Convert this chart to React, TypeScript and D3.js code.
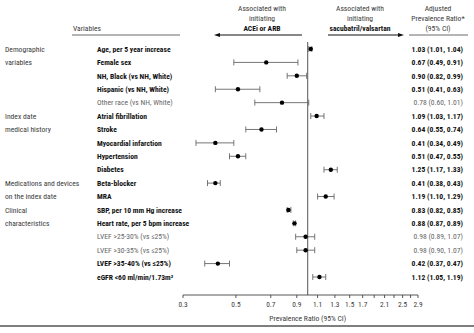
import React from "react";
import * as d3 from "d3";

const groups = [
  { label: ["Demographic", "variables"], row: 0 },
  { label: ["Index date", "medical history"], row: 5 },
  { label: ["Medications and devices", "on the index date"], row: 10 },
  { label: ["Clinical", "characteristics"], row: 12 },
];

const variables = [
  "Age, per 5 year increase",
  "Female sex",
  "NH, Black (vs NH, White)",
  "Hispanic (vs NH, White)",
  "Other race (vs NH, White)",
  "Atrial fibrillation",
  "Stroke",
  "Myocardial infarction",
  "Hypertension",
  "Diabetes",
  "Beta-blocker",
  "MRA",
  "SBP, per 10 mm Hg increase",
  "Heart rate, per 5 bpm increase",
  "LVEF >25-30% (vs ≤25%)",
  "LVEF >30-35% (vs ≤25%)",
  "LVEF >35-40% (vs ≤25%)",
  "eGFR <60 ml/min/1.73m²",
];
const estimates = [1.03, 0.67, 0.9, 0.51, 0.78, 1.09, 0.64, 0.41, 0.51, 1.25, 0.41, 1.19, 0.83, 0.88, 0.98, 0.98, 0.42, 1.12];
const lower = [1.01, 0.49, 0.82, 0.41, 0.6, 1.03, 0.55, 0.34, 0.47, 1.17, 0.38, 1.1, 0.82, 0.87, 0.89, 0.9, 0.37, 1.05];
const upper = [1.04, 0.91, 0.99, 0.63, 1.01, 1.17, 0.74, 0.49, 0.55, 1.33, 0.43, 1.29, 0.85, 0.89, 1.07, 1.07, 0.47, 1.19];
const significant = [true, true, true, true, false, true, true, true, true, true, true, true, true, true, false, false, true, true];

const tickValues = [0.3, 0.5, 0.7, 0.9, 1.1, 1.3, 1.5, 1.7, 1.9, 2.1, 2.3, 2.5, 2.7, 2.9];
const unlabeledTicks = [1.9, 2.3, 2.7];

const FONT = "'Liberation Sans Narrow', 'Roboto Condensed', Roboto, sans-serif";

export default function App() {
  const x = d3.scaleLog().domain([0.3, 2.9]).range([183, 418]);
  const y = d3.scalePoint<number>().domain(d3.range(variables.length)).range([49, 277]);
  const axisY = 295;
  const fmt = (v: number) => v.toFixed(2);
  const fs = 7.6;
  const dark = "#111";
  const grey = "#3a3a3a";
  const light = "#666";

  return (
    <svg width={474} height={333} style={{ position: "absolute", left: 0, top: 0, background: "#fff" }} fontFamily={FONT}>
      {/* header */}
      <text x={73} y={31} fontSize={fs} fill={grey}>Variables</text>
      <line x1={72} x2={180} y1={35} y2={35} stroke="#444" strokeWidth={0.8} />

      <g fontSize={fs} textAnchor="middle" fill={grey}>
        <text x={262} y={11}>Associated with</text>
        <text x={262} y={21}>initiating</text>
        <text x={262} y={31} fontWeight="bold" fill={dark}>ACEi or ARB</text>
        <text x={360} y={11}>Associated with</text>
        <text x={360} y={21}>initiating</text>
        <text x={360} y={31} fontWeight="bold" fill={dark}>sacubatril/valsartan</text>
        <text x={438} y={11}>Adjusted</text>
        <text x={438} y={21}>Prevalence Ratio*</text>
        <text x={438} y={31}>(95% CI)</text>
      </g>
      <line x1={217} x2={302} y1={35} y2={35} stroke="#111" strokeWidth={1} />
      <path d="M214,35 L220,33 L220,37 Z" fill="#111" />
      <line x1={328} x2={400} y1={35} y2={35} stroke="#111" strokeWidth={1} />
      <path d="M404,35 L398,33 L398,37 Z" fill="#111" />
      <line x1={409} x2={468} y1={35} y2={35} stroke="#444" strokeWidth={0.8} />

      {/* group labels */}
      {groups.map((g, i) => (
        <g key={i} fontSize={fs} fill={grey}>
          {g.label.map((l, j) => (
            <text key={j} x={5} y={(y(g.row + j) as number) + 2.7}>{l}</text>
          ))}
        </g>
      ))}

      {/* variable labels and values */}
      {variables.map((v, i) => (
        <g key={v}>
          <text x={97} y={(y(i) as number) + 2.7} fontSize={fs} fontWeight={significant[i] ? "bold" : "normal"} fill={significant[i] ? dark : light}>
            {v}
          </text>
          <text x={463} y={(y(i) as number) + 2.7} fontSize={fs} textAnchor="end" fontWeight={significant[i] ? "bold" : "normal"} fill={significant[i] ? dark : light}>
            {`${fmt(estimates[i])} (${fmt(lower[i])}, ${fmt(upper[i])})`}
          </text>
        </g>
      ))}

      {/* reference line */}
      <line x1={x(1)} x2={x(1)} y1={42} y2={axisY} stroke="#555" strokeWidth={1} />

      {/* CIs */}
      {variables.map((v, i) => {
        const cy = y(i) as number;
        return (
          <g key={"ci" + i} stroke="#666" strokeWidth={0.9}>
            <line x1={x(lower[i])} x2={x(upper[i])} y1={cy} y2={cy} />
            <line x1={x(lower[i])} x2={x(lower[i])} y1={cy - 3} y2={cy + 3} />
            <line x1={x(upper[i])} x2={x(upper[i])} y1={cy - 3} y2={cy + 3} />
            <circle cx={x(estimates[i])} cy={cy} r={2.2} fill="#000" stroke="none" />
          </g>
        );
      })}

      {/* axis */}
      <line x1={x(0.3)} x2={x(2.9)} y1={axisY} y2={axisY} stroke="#444" strokeWidth={0.9} />
      {tickValues.map((t) => (
        <g key={t}>
          <line x1={x(t)} x2={x(t)} y1={axisY} y2={axisY + 3} stroke="#444" strokeWidth={0.9} />
          {!unlabeledTicks.includes(t) && (
            <text x={x(t)} y={axisY + 12} fontSize={fs - 0.2} textAnchor="middle" fill={grey}>
              {t.toFixed(1)}
            </text>
          )}
        </g>
      ))}
      <text x={x(1)} y={321} fontSize={fs} textAnchor="middle" fill={grey}>Prevalence Ratio (95% CI)</text>
      <line x1={0} x2={474} y1={326} y2={326} stroke="#555" strokeWidth={1.6} />
    </svg>
  );
}
